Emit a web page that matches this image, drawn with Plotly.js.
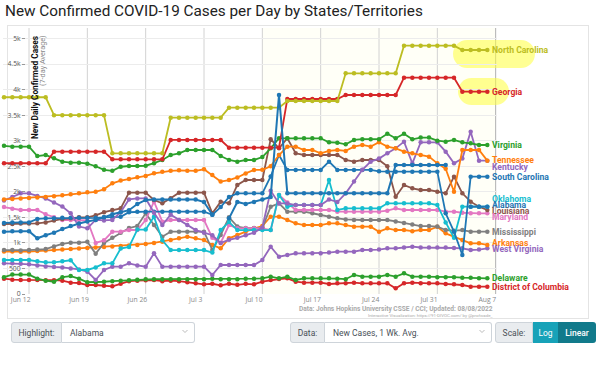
<!DOCTYPE html>
<html><head><meta charset="utf-8">
<script src="https://cdn.plot.ly/plotly-3.0.1.min.js"></script>
<style>
body{margin:0;background:#fff;font-family:Roboto,"Open Sans",sans-serif;}
#wrap{position:relative;width:600px;height:386px;overflow:hidden;background:#fff;}
#frame{position:absolute;left:7px;top:25px;width:580px;height:292px;border:1px solid #e4e4e4;}
#chart{position:absolute;left:0;top:0;width:600px;height:320px;}
.box{position:absolute;top:322px;height:21px;box-sizing:border-box;border:1px solid #ced4da;font-size:8.5px;color:#495057;display:flex;align-items:center;white-space:nowrap;}
.lab{background:#e9ecef;justify-content:center;border-radius:3px 0 0 3px;}
.sel{background:#fff;border-left:none;border-radius:0 3px 3px 0;padding-left:8px;}
.chev{position:absolute;right:6px;top:6px;}
.btn{position:absolute;top:322px;height:21px;box-sizing:border-box;color:#fff;font-size:8.5px;display:flex;align-items:center;justify-content:center;}
</style></head>
<body><div id="wrap">
<div id="frame"></div>
<div id="chart"></div>
<div class="box lab" style="left:11px;width:51px;">Highlight:</div>
<div class="box sel" style="left:62px;width:133px;">Alabama<svg class="chev" width="6" height="5"><polyline points="0.5,1 3,3.5 5.5,1" fill="none" stroke="#aaa" stroke-width="0.8"/></svg></div>
<div class="box lab" style="left:290px;width:35px;">Data:</div>
<div class="box sel" style="left:325px;width:167px;">New Cases, 1 Wk. Avg.<svg class="chev" width="6" height="5"><polyline points="0.5,1 3,3.5 5.5,1" fill="none" stroke="#aaa" stroke-width="0.8"/></svg></div>
<div class="box lab" style="left:495px;width:38px;">Scale:</div>
<div class="btn" style="left:533px;width:25px;background:#17a2b8;">Log</div>
<div class="btn" style="left:558px;width:38px;background:#117a8b;border-radius:0 3px 3px 0;font-weight:500;">Linear</div>
</div>
<script>
// ---------- data ----------
const startDate = '2022-06-10';
const dayCount = 59;
const tickDates = ['2022-06-12','2022-06-19','2022-06-26','2022-07-03','2022-07-10','2022-07-17','2022-07-24','2022-07-31','2022-08-07'];
const tickLabels = ['Jun 12','Jun 19','Jun 26','Jul 3','Jul 10','Jul 17','Jul 24','Jul 31','Aug 7'];
const yTickVals = [0,500,1000,1500,2000,2500,3000,3500,4000,4500,5000];
const yTickText = ['0','500','1k','1.5k','2k','2.5k','3k','3.5k','4k','4.5k','5k'];

const stateNames = ['North Carolina','Georgia','Virginia','Tennessee','Kentucky','South Carolina','Oklahoma','Alabama','Louisiana','Maryland','Mississippi','Arkansas','West Virginia','Delaware','District of Columbia'];

const northCarolina = [3850,3850,3850,3850,3850,3850,3500,3500,3500,3500,3500,3500,3500,2753,2753,2753,2753,2753,2753,2753,3450,3450,3450,3450,3450,3450,3450,3646,3646,3646,3646,3646,3646,3646,3777,3777,3777,3777,3777,3777,3777,4319,4319,4319,4319,4319,4319,4319,4860,4860,4860,4860,4860,4860,4860,4775,4775,4775,4775];
const georgia = [2558,2558,2558,2558,2558,2558,2785,2785,2785,2785,2785,2785,2785,2636,2636,2636,2636,2636,2636,2636,3014,3014,3014,3014,3014,3014,3014,2863,2863,2863,2863,2863,2863,2863,3816,3816,3816,3816,3816,3816,3816,3894,3894,3894,3894,3894,3894,3894,4233,4233,4233,4233,4233,4233,4233,3959,3959,3959,3959];
const virginia = [2900,2883,2883,2883,2700,2720,2655,2590,2570,2570,2550,2500,2430,2410,2490,2505,2505,2510,2560,2622,2720,2753,2818,2818,2818,2818,2700,2622,2590,2622,2622,2680,2850,3047,3047,3047,3047,3047,3047,2969,2962,2929,3014,3030,3030,3030,3137,3047,3137,3027,3060,3060,3000,2981,3014,2969,2949,2916,2916];
const tennessee = [1850,1860,1870,1880,1890,1900,1915,1930,1950,1970,1990,2000,2050,2165,2220,2250,2283,2310,2361,2390,2410,2420,2410,2410,2440,2328,2200,2230,2280,2360,2427,2430,2500,2720,2883,2883,2818,2818,2753,2800,2818,2800,2883,2916,2883,2968,2883,2850,2785,2753,2720,2688,2557,2450,2000,2818,2818,2818,2609];
const kentucky = [1830,1900,1970,1970,1920,1870,1790,1710,1580,1320,1285,1450,1440,1450,1600,1850,1870,1870,1590,1350,1550,1450,1350,1250,1200,1150,1000,1060,1100,1150,1200,1300,2020,1773,1773,1740,1740,1740,1740,1850,1800,1970,2200,2430,2590,2650,2753,2850,2981,2557,2968,2968,2968,2785,2557,2650,3177,2609,2609];
const southCarolina = [1390,1400,1400,1400,1470,1480,1480,1490,1490,1490,1490,1490,1500,1500,1510,1600,1610,1610,1610,1610,1610,1610,1610,1610,1610,1550,1700,1900,1970,1970,1970,1970,2300,2720,2427,2427,2427,2427,2427,2590,2427,2427,2427,2427,2427,2400,2394,2394,2394,2394,2394,2394,2394,1579,1219,763,2296,2296,2296];
const oklahoma = [665,665,665,665,640,620,620,640,660,470,470,520,600,600,890,920,1260,1260,1510,1050,860,860,860,860,860,810,1250,1410,1250,1250,1250,1250,1250,1937,1709,1740,1740,1740,1740,2231,1644,1676,1676,1676,1676,1676,1774,1774,1774,1774,1774,1774,1740,1400,1100,1709,1709,1709,1709];
const alabama = [1220,1230,1230,1230,1090,1150,1200,1270,1330,1380,1420,1450,1500,1560,1600,1640,1760,1840,1850,1850,1850,1850,1850,1850,1800,1550,null,1480,1800,1760,1800,1850,1900,3894,1970,1970,1970,1970,1970,1970,1970,1970,1970,1970,1970,1970,1970,2525,2525,2525,2525,2525,2525,2525,null,null,1709,1709,1709];
const alabamaMissingDays = ['2022-07-06','2022-08-03','2022-08-04'];
const louisiana = [1370,1370,1380,1380,1383,1400,1440,1470,1480,1500,1500,1540,1600,1644,1676,1983,1983,1983,1839,1774,1872,1983,1983,1983,1983,1578,1807,1774,2133,2231,2231,2231,3030,2850,3047,2753,2720,2720,2720,2720,2720,2622,2590,2622,2622,2622,2500,1904,2133,2067,2035,2035,2002,1970,2296,1970,1807,1709,1644];
const maryland = [1700,1670,1644,1644,1644,1560,1500,1448,1448,1448,1440,1000,1050,1219,1219,1252,1252,1448,1807,1415,1448,1448,1448,1448,1448,1100,1000,1350,1285,1285,1285,1285,1250,1937,1790,1644,1644,1644,1644,1644,1611,1611,1611,1611,1611,1611,1630,1676,1644,1644,1644,1644,1644,1611,1611,1590,1578,1578,1578];
const mississippi = [860,860,850,860,870,880,930,980,1005,1005,1020,790,1000,1100,1200,1290,1330,1578,1350,1122,1220,1220,1220,1220,1220,861,1155,1500,1320,1290,1290,1290,1709,1774,1611,1611,1611,1580,1546,1510,1480,1460,1448,1448,1448,1448,1448,1420,1390,1360,1330,1330,1320,1252,1240,1250,1219,1219,1219];
const arkansas = [830,830,825,830,840,850,860,870,880,890,900,910,920,930,940,950,961,980,1000,1024,1057,1090,1122,1090,1057,960,893,1090,1155,1220,1285,1330,1513,1513,1448,1383,1350,1350,1350,1383,1383,1350,1317,1317,1317,1220,1285,1252,1252,1230,1252,1252,1317,1187,1122,1057,991,991,959];
const westVirginia = [600,600,590,580,560,540,530,520,500,480,437,274,469,535,535,600,560,535,796,535,535,535,535,535,535,372,567,567,567,567,567,665,926,730,763,796,796,796,796,810,828,828,828,861,861,870,894,894,910,926,910,910,910,910,900,894,861,870,894];
const delaware = [330,380,380,380,300,260,240,330,350,300,230,230,240,250,260,270,280,290,290,290,290,290,290,290,290,300,290,290,290,300,300,307,339,307,339,274,307,307,307,307,300,290,372,339,339,339,372,339,404,339,339,339,330,330,330,320,320,310,307];
const districtOfColumbia = [300,280,275,275,275,270,270,260,222,215,176,176,160,150,200,250,260,270,274,250,260,250,230,209,190,200,170,200,180,200,190,240,274,293,307,241,222,222,222,196,209,209,222,209,209,209,209,111,209,222,209,209,209,196,190,176,143,143,143];

const seriesValues = [northCarolina,georgia,virginia,tennessee,kentucky,southCarolina,oklahoma,alabama,louisiana,maryland,mississippi,arkansas,westVirginia,delaware,districtOfColumbia];

// ---------- styles ----------
const seriesColors = ['#bcbd22','#d62728','#2ca02c','#ff7f0e','#9467bd','#1f77b4','#17becf','#1f77b4','#8c564b','#e377c2','#7f7f7f','#ff7f0e','#9467bd','#2ca02c','#d62728'];
const labelShift = [0,0,0,1,-6,0,8,2,-1,-4,0,2,-1,0,0];

// ---------- build ----------
const W = 600, H = 320, mL = 3, mR = 103, mT = 28, mB = 26;
const pw = W - mL - mR, ph = H - mT - mB;
const px = x => (x - mL) / pw;
const py = y => (H - mB - y) / ph;

function addDays(d, n){ const t = new Date(d + 'T00:00:00Z'); t.setUTCDate(t.getUTCDate() + n); return t.toISOString().slice(0,10); }
const dates = []; for (let i = 0; i < dayCount; i++) dates.push(addDays(startDate, i));

const traces = [];
const order = [14,13,12,11,10,9,8,6,5,4,3,2,1,0,7];
order.forEach(k => {
  traces.push({
    x: dates, y: seriesValues[k], name: stateNames[k], type: 'scatter', mode: 'lines+markers',
    line: {color: seriesColors[k], width: k === 7 ? 2 : 1.8},
    marker: {color: seriesColors[k], size: 4.5},
    connectgaps: false, cliponaxis: false, hoverinfo: 'skip'
  });
});
traces.push({x: alabamaMissingDays, y: alabamaMissingDays.map(() => -55), type: 'scatter', mode: 'markers',
  marker: {color: '#1f77b4', size: 4.5}, cliponaxis: false, hoverinfo: 'skip', showlegend: false});

const annotations = [];
stateNames.forEach((n, k) => {
  const vals = seriesValues[k];
  annotations.push({x: dates[dayCount-1], y: vals[dayCount-1], xref: 'x', yref: 'y', text: n, showarrow: false,
    xanchor: 'left', yanchor: 'middle', xshift: 2.5, yshift: labelShift[k],
    font: {family: 'Roboto', size: 8.6, color: seriesColors[k], weight: 700}});
});
annotations.push({xref: 'paper', yref: 'paper', x: px(34.5), y: py(87.5), text: '<b>New Daily Confirmed Cases</b>', textangle: -90,
  showarrow: false, xanchor: 'center', yanchor: 'middle', font: {family: 'Roboto', size: 8.3, color: '#111'}});
annotations.push({xref: 'paper', yref: 'paper', x: px(42), y: py(61), text: '(7-day Average)', textangle: -90,
  showarrow: false, xanchor: 'center', yanchor: 'middle', font: {family: 'Roboto', size: 7.3, color: '#888'}});
annotations.push({xref: 'paper', yref: 'paper', x: px(495), y: py(309), text: '<b>Data: Johns Hopkins University CSSE / CCI; Updated: 08/08/2022</b>',
  showarrow: false, xanchor: 'right', yanchor: 'middle', font: {family: 'Roboto', size: 6.6, color: '#aaa'}});
annotations.push({xref: 'paper', yref: 'paper', x: px(495), y: py(315.5), text: 'Interactive Visualization: https://91-DIVOC.com/ by @profwade_',
  showarrow: false, xanchor: 'right', yanchor: 'middle', font: {family: 'Roboto', size: 4.4, color: '#aaa'}});

function stadium(x0, y0, x1, y1){
  const r = (y1 - y0) / 2, k = 0.5523 * r;
  const P = (x, y) => px(x).toFixed(5) + ',' + py(y).toFixed(5);
  return 'M' + P(x0 + r, y0) + ' L' + P(x1 - r, y0) +
    ' C' + P(x1 - r + k, y0) + ' ' + P(x1, y0 + r - k) + ' ' + P(x1, y0 + r) +
    ' C' + P(x1, y0 + r + k) + ' ' + P(x1 - r + k, y1) + ' ' + P(x1 - r, y1) +
    ' L' + P(x0 + r, y1) +
    ' C' + P(x0 + r - k, y1) + ' ' + P(x0, y1 - r + k) + ' ' + P(x0, y0 + r) +
    ' C' + P(x0, y0 + r - k) + ' ' + P(x0 + r - k, y0) + ' ' + P(x0 + r, y0) + ' Z';
}

const shapes = [];
shapes.push({type: 'rect', xref: 'x', yref: 'paper', x0: '2022-07-11', x1: '2022-08-08', y0: 0, y1: 1,
  fillcolor: 'rgba(255,255,190,0.12)', line: {width: 0}, layer: 'below'});
tickDates.forEach(d => {
  const g = addDays(d, 1);
  shapes.push({type: 'line', xref: 'x', yref: 'paper', x0: g, x1: g, y0: 0, y1: 1,
    line: {color: d === tickDates[tickDates.length-1] ? '#b0b0b0' : '#d2d2d2', width: 1}, layer: 'below'});
});
shapes.push({type: 'path', xref: 'paper', yref: 'paper', path: stadium(453, 40, 535, 68), fillcolor: 'rgba(255,255,60,0.55)', line: {width: 0}, layer: 'below'});
shapes.push({type: 'path', xref: 'paper', yref: 'paper', path: stadium(458, 78, 509, 105), fillcolor: 'rgba(255,255,60,0.55)', line: {width: 0}, layer: 'below'});

const layout = {
  width: W, height: H, margin: {l: mL, r: mR, t: mT, b: mB},
  paper_bgcolor: 'rgba(0,0,0,0)', plot_bgcolor: 'rgba(0,0,0,0)',
  showlegend: false, hovermode: false,
  title: {text: 'New Confirmed COVID-19 Cases per Day by States/Territories', xref: 'container', yref: 'container',
    x: 5/600, xanchor: 'left', y: 1 - 11/H, yanchor: 'middle', font: {family: 'Roboto', size: 15.3, color: '#222'}},
  xaxis: {type: 'date', range: ['2022-06-09 21:07', '2022-08-08 03:50'], tickvals: tickDates, ticktext: tickLabels,
    showgrid: false, zeroline: false, showline: false, ticks: '', tickfont: {family: 'Open Sans', size: 6.8, color: '#888'}},
  yaxis: {range: [0, 5205], tickvals: yTickVals, ticktext: yTickText, anchor: 'free', position: px(25),
    showgrid: true, gridcolor: '#ececec', gridwidth: 1, zeroline: false, showline: false,
    ticks: 'outside', ticklen: 3, tickcolor: '#999', tickfont: {family: 'Open Sans', size: 6.8, color: '#555'}},
  annotations: annotations, shapes: shapes
};
Plotly.newPlot('chart', traces, layout, {displayModeBar: false, staticPlot: true});
</script>
</body></html>
